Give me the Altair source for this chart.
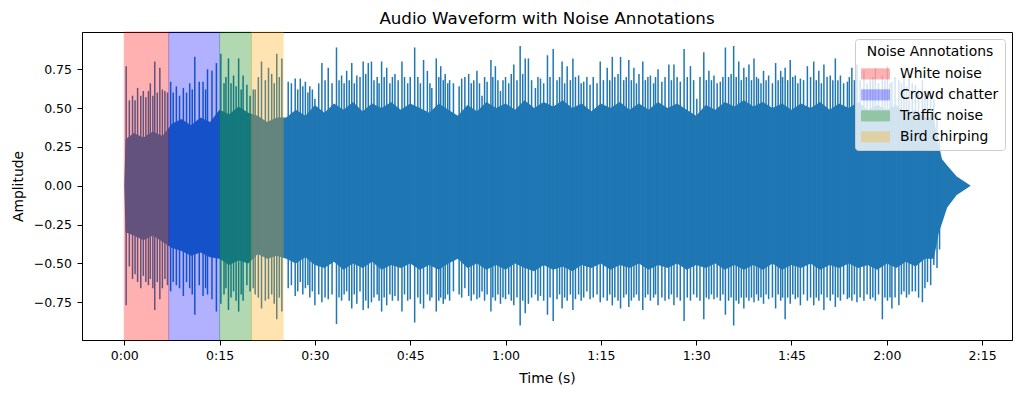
import altair as alt
import pandas as pd

# ---- noise annotation spans (seconds) ----
span_labels = ["White noise", "Crowd chatter", "Traffic noise", "Bird chirping"]
span_start = [0.0, 7.0, 15.0, 20.0]
span_end = [7.0, 15.0, 20.0, 25.0]
span_colors = ["#ff0000", "#0000ff", "#008000", "#ffa500"]

# ---- dense core envelope of the waveform ----
core_t = [0, 0.2, 1.5, 3.0, 4.5, 6.0, 7.5, 9.0, 10.5, 12.0, 13.5, 15.0, 16.5, 18.0,
          19.5, 21.0, 22.5, 24.0, 25.5, 27.0, 28.5, 30.0, 31.5, 33.0, 34.5, 36.0,
          37.5, 39.0, 40.5, 42.0, 43.5, 45.0, 46.5, 48.0, 49.5, 51.0, 52.5, 54.0,
          55.5, 57.0, 58.5, 60.0, 61.5, 63.0, 64.5, 66.0, 67.5, 69.0, 70.5, 72.0,
          73.5, 75.0, 76.5, 78.0, 79.5, 81.0, 82.5, 84.0, 85.5, 87.0, 88.5, 90.0,
          91.5, 93.0, 94.5, 96.0, 97.5, 99.0, 100.5, 102.0, 103.5, 105.0, 106.5,
          108.0, 109.5, 111.0, 112.5, 114.0, 115.5, 117.0, 118.5, 120.0, 121.5,
          123.0, 124.5, 126.0, 127.4, 128.2, 128.7, 129.5, 131.0, 132.5, 133.2]
core_hi = [0, 0.30, 0.34, 0.31, 0.35, 0.32, 0.40, 0.43, 0.39, 0.44, 0.41, 0.49,
           0.46, 0.51, 0.47, 0.45, 0.41, 0.44, 0.44, 0.49, 0.45, 0.52, 0.47, 0.53,
           0.49, 0.54, 0.48, 0.53, 0.50, 0.54, 0.49, 0.53, 0.50, 0.47, 0.53, 0.49,
           0.45, 0.52, 0.48, 0.54, 0.50, 0.53, 0.49, 0.55, 0.50, 0.54, 0.51, 0.55,
           0.50, 0.53, 0.48, 0.53, 0.50, 0.54, 0.49, 0.53, 0.49, 0.54, 0.50, 0.53,
           0.49, 0.45, 0.52, 0.49, 0.54, 0.51, 0.55, 0.51, 0.54, 0.50, 0.53, 0.49,
           0.53, 0.50, 0.54, 0.49, 0.53, 0.50, 0.54, 0.49, 0.52, 0.49, 0.52, 0.47,
           0.49, 0.44, 0.44, 0.25, 0.17, 0.13, 0.06, 0.02, 0]
core_lo = [0, -0.30, -0.32, -0.35, -0.32, -0.36, -0.40, -0.42, -0.45, -0.43, -0.46,
           -0.47, -0.51, -0.48, -0.50, -0.44, -0.47, -0.45, -0.47, -0.50, -0.46,
           -0.51, -0.53, -0.49, -0.54, -0.50, -0.53, -0.49, -0.54, -0.51, -0.53,
           -0.50, -0.54, -0.51, -0.54, -0.50, -0.47, -0.53, -0.50, -0.54, -0.51,
           -0.54, -0.50, -0.53, -0.55, -0.51, -0.54, -0.52, -0.55, -0.51, -0.53,
           -0.50, -0.54, -0.51, -0.53, -0.50, -0.54, -0.51, -0.53, -0.50, -0.54,
           -0.51, -0.53, -0.50, -0.54, -0.51, -0.54, -0.51, -0.54, -0.50, -0.54,
           -0.51, -0.53, -0.50, -0.54, -0.51, -0.53, -0.50, -0.53, -0.51, -0.54,
           -0.50, -0.53, -0.49, -0.52, -0.47, -0.47, -0.30, -0.24, -0.14, -0.06,
           -0.02, 0]

# ---- individual peaks (time, upper extent, lower extent) ----
spike_t = [
    0.3, 0.8, 1.3, 1.7, 2.1, 2.6, 3.0, 3.4, 3.8, 4.1, 4.5, 4.8, 5.2, 5.6, 6.0, 6.4, 6.8,
    7.3, 7.7, 8.2, 8.7, 9.3, 9.8, 10.3, 10.7, 11.1, 11.8, 12.4, 12.8, 13.1, 13.8, 14.5,
    15.2, 15.7, 16.0, 16.4, 16.8, 17.2, 17.6, 18.0, 18.4, 18.7, 19.3, 19.8,
    20.3, 20.6, 21.1, 21.6, 22.2, 22.7, 23.2, 23.6, 24.0, 24.4, 24.8,
    25.8, 26.3, 26.9, 27.3, 27.7, 28.1, 28.5, 28.9, 29.2, 29.6, 30.0, 30.6, 31.1, 31.6,
    32.1, 32.7, 33.4, 33.8, 34.2, 34.6, 35.0, 35.4, 35.8, 36.2, 36.6, 37.1, 37.6, 38.0,
    38.4, 38.9, 39.3, 39.8, 40.1, 40.5, 40.9, 41.3, 41.8, 42.2, 42.6, 43.1, 43.7, 44.1,
    44.6, 45.0,
    45.7, 46.2, 46.6, 47.1, 47.7, 48.1, 48.4, 49.1, 49.5, 49.8, 50.2, 50.5, 50.9, 51.2,
    51.8, 52.7, 53.1, 53.6, 54.2, 54.6, 55.0, 55.5, 55.9, 56.3, 56.7, 57.1, 57.7, 58.0,
    58.4, 58.8, 59.2, 59.6, 60.0, 60.5, 60.9, 61.3, 61.8, 62.3, 62.7, 63.1, 63.6, 64.1,
    64.7, 65.1, 65.5, 66.0, 66.6, 67.0, 67.5, 68.1, 68.5, 68.9, 69.3, 69.7, 70.2, 70.6,
    71.0, 71.5, 71.9, 72.3, 72.8, 73.3, 73.8, 74.4, 74.9, 75.4, 76.0, 76.4, 76.8, 77.2,
    77.7, 78.1, 78.6, 79.0, 79.4, 79.8, 80.2, 80.6, 81.0, 81.6, 82.0, 82.4, 82.8, 83.3,
    83.6, 84.0, 84.6, 85.1, 85.7, 86.1, 86.5, 87.0, 87.5, 88.1, 88.6, 89.1, 89.6, 90.1,
    90.6, 91.2, 91.6, 92.0,
    92.4, 92.8, 93.3, 93.8, 94.2, 94.6, 95.1, 95.5, 95.9, 96.3, 96.7, 97.1, 97.5, 97.9,
    98.3, 98.7, 99.1, 99.5, 99.8, 100.2, 100.6, 101.0, 101.4, 102.0, 102.5, 102.9, 103.3,
    103.6, 104.0, 104.4, 104.8, 105.2, 105.6, 106.0, 106.4, 106.9, 107.5, 108.0, 108.5,
    108.9, 109.3, 109.7, 110.1, 110.6, 111.1, 111.5, 111.9, 112.3, 112.7, 113.2, 113.8,
    114.1, 114.5, 114.9, 115.3, 115.8, 116.4, 116.9, 117.4, 117.8, 118.2, 118.7, 119.3,
    119.7, 120.1, 120.5, 120.8, 121.3, 121.9, 122.3, 122.7, 123.1, 123.5, 124.0, 124.5,
    125.0, 125.6, 126.0, 126.4, 126.9, 127.4, 127.9, 128.3,
]
spike_hi = [
    0.77, 0.55, 0.58, 0.55, 0.63, 0.58, 0.61, 0.57, 0.61, 0.66, 0.58, 0.80, 0.60, 0.76, 0.62, 0.61, 0.60,
    0.67, 0.60, 0.64, 0.58, 0.63, 0.60, 0.66, 0.62, 0.83, 0.67, 0.67, 0.62, 0.75, 0.74, 0.79,
    0.85, 0.66, 0.70, 0.82, 0.66, 0.71, 0.64, 0.82, 0.62, 0.71, 0.65, 0.58,
    0.62, 0.62, 0.70, 0.80, 0.68, 0.76, 0.72, 0.66, 0.85, 0.70, 0.82,
    0.67, 0.66, 0.69, 0.62, 0.69, 0.64, 0.67, 0.60, 0.64, 0.62, 0.56, 0.66, 0.79, 0.68,
    0.76, 0.66, 0.89, 0.68, 0.71, 0.66, 0.74, 0.68, 0.79, 0.66, 0.71, 0.70, 0.80, 0.72,
    0.79, 0.80, 0.68, 0.70, 0.66, 0.80, 0.70, 0.76, 0.66, 0.70, 0.72, 0.68, 0.80, 0.70,
    0.66, 0.70,
    0.89, 0.70, 0.66, 0.81, 0.74, 0.66, 0.63, 0.82, 0.70, 0.77, 0.68, 0.72, 0.66, 0.68,
    0.66, 0.64, 0.69, 0.70, 0.72, 0.66, 0.68, 0.74, 0.66, 0.58, 0.70, 0.67, 0.81, 0.70,
    0.77, 0.68, 0.61, 0.68, 0.70, 0.66, 0.72, 0.78, 0.68, 0.90, 0.72, 0.82, 0.82, 0.68,
    0.63, 0.70, 0.69, 0.66, 0.84, 0.70, 0.88, 0.68, 0.70, 0.80, 0.66, 0.77, 0.68, 0.82,
    0.70, 0.71, 0.66, 0.67, 0.70, 0.65, 0.70, 0.66, 0.80, 0.68, 0.76, 0.68, 0.83, 0.70,
    0.72, 0.83, 0.68, 0.70, 0.81, 0.68, 0.76, 0.66, 0.72, 0.80, 0.68, 0.70, 0.71, 0.66,
    0.70, 0.75, 0.67, 0.70, 0.78, 0.68, 0.78, 0.70, 0.67, 0.88, 0.70, 0.77, 0.68, 0.56,
    0.70, 0.86, 0.68, 0.74,
    0.68, 0.71, 0.66, 0.67, 0.70, 0.89, 0.70, 0.72, 0.90, 0.70, 0.80, 0.68, 0.76, 0.70,
    0.78, 0.68, 0.82, 0.70, 0.69, 0.66, 0.74, 0.68, 0.71, 0.66, 0.79, 0.68, 0.74,
    0.70, 0.76, 0.68, 0.81, 0.70, 0.71, 0.66, 0.69, 0.68, 0.77, 0.70, 0.80,
    0.68, 0.74, 0.66, 0.78, 0.70, 0.71, 0.68, 0.82, 0.68, 0.71, 0.66, 0.67,
    0.70, 0.76, 0.68, 0.78, 0.68, 0.74, 0.66, 0.69, 0.70, 0.76, 0.66, 0.71,
    0.68, 0.77, 0.66, 0.67, 0.70, 0.68, 0.66, 0.72, 0.64, 0.69, 0.66, 0.65,
    0.62, 0.68, 0.60, 0.61, 0.58, 0.56, 0.45, 0.30,
]
spike_lo = [
    -0.77, -0.52, -0.60, -0.57, -0.62, -0.66, -0.58, -0.62, -0.64, -0.60, -0.66, -0.80, -0.62, -0.73, -0.66, -0.60, -0.64,
    -0.68, -0.62, -0.64, -0.66, -0.71, -0.62, -0.66, -0.70, -0.83, -0.64, -0.71, -0.66, -0.70, -0.73, -0.81,
    -0.76, -0.70, -0.66, -0.80, -0.72, -0.68, -0.74, -0.81, -0.70, -0.74, -0.64, -0.68,
    -0.66, -0.70, -0.72, -0.79, -0.74, -0.73, -0.70, -0.76, -0.86, -0.72, -0.81,
    -0.66, -0.64, -0.71, -0.68, -0.62, -0.70, -0.66, -0.64, -0.72, -0.68, -0.77, -0.70, -0.75, -0.72,
    -0.73, -0.70, -0.89, -0.72, -0.74, -0.70, -0.68, -0.74, -0.79, -0.70, -0.76, -0.68, -0.80, -0.74,
    -0.79, -0.75, -0.72, -0.70, -0.74, -0.81, -0.72, -0.77, -0.70, -0.74, -0.71, -0.74, -0.81, -0.70,
    -0.74, -0.73,
    -0.88, -0.72, -0.76, -0.79, -0.70, -0.74, -0.72, -0.81, -0.74, -0.72, -0.76, -0.73, -0.70, -0.74,
    -0.68, -0.70, -0.72, -0.66, -0.71, -0.74, -0.70, -0.73, -0.72, -0.68, -0.74, -0.70, -0.81, -0.72,
    -0.74, -0.70, -0.76, -0.72, -0.73, -0.70, -0.74, -0.77, -0.72, -0.90, -0.74, -0.82, -0.76, -0.72,
    -0.70, -0.74, -0.71, -0.74, -0.83, -0.72, -0.87, -0.73, -0.70, -0.79, -0.72, -0.74, -0.70, -0.80,
    -0.73, -0.70, -0.74, -0.72, -0.68, -0.73, -0.72, -0.70, -0.75, -0.72, -0.74, -0.70, -0.77, -0.72,
    -0.74, -0.79, -0.72, -0.70, -0.78, -0.74, -0.72, -0.70, -0.74, -0.80, -0.72, -0.70, -0.74, -0.72,
    -0.70, -0.77, -0.72, -0.74, -0.73, -0.70, -0.77, -0.72, -0.74, -0.87, -0.72, -0.74, -0.70, -0.72,
    -0.74, -0.86, -0.72, -0.73,
    -0.70, -0.73, -0.72, -0.74, -0.70, -0.83, -0.74, -0.72, -0.90, -0.74, -0.76, -0.72, -0.79, -0.72,
    -0.74, -0.72, -0.75, -0.70, -0.74, -0.72, -0.76, -0.70, -0.73, -0.72, -0.79, -0.70, -0.74,
    -0.72, -0.86, -0.72, -0.76, -0.70, -0.73, -0.72, -0.77, -0.70, -0.74, -0.72, -0.77,
    -0.72, -0.74, -0.70, -0.80, -0.72, -0.74, -0.70, -0.78, -0.72, -0.74, -0.70, -0.73,
    -0.72, -0.74, -0.70, -0.75, -0.72, -0.74, -0.70, -0.73, -0.72, -0.74, -0.70, -0.86,
    -0.72, -0.74, -0.72, -0.79, -0.72, -0.77, -0.70, -0.68, -0.72, -0.70, -0.68, -0.68,
    -0.72, -0.75, -0.66, -0.62, -0.64, -0.51, -0.53, -0.41,
]

# ---- axis ticks ----
x_ticks = [0, 15, 30, 45, 60, 75, 90, 105, 120, 135]
y_ticks = [-0.75, -0.5, -0.25, 0.0, 0.25, 0.5, 0.75]

WAVE = "#1f77b4"
FONT = "DejaVu Sans"

core_df = pd.DataFrame({"t": core_t, "hi": core_hi, "lo": core_lo})
spike_df = pd.DataFrame({"t": spike_t, "hi": spike_hi, "lo": spike_lo})
span_df = pd.DataFrame({"label": span_labels, "start": span_start, "end": span_end})

x_scale = alt.Scale(domain=[-6.65, 139.7], nice=False, zero=False)
y_scale = alt.Scale(domain=[-0.993, 0.99], nice=False, zero=False)

x_axis = alt.Axis(
    values=x_ticks,
    title="Time (s)",
    labelExpr="floor(datum.value/60) + ':' + (datum.value % 60 < 10 ? '0' : '') + (datum.value % 60)",
    labelPadding=4,
    titlePadding=10,
)
y_axis = alt.Axis(values=y_ticks, format=".2f", title="Amplitude",
                  labelPadding=5.5, titlePadding=8)

core = alt.Chart(core_df).mark_area(color=WAVE, opacity=1).encode(
    x=alt.X("t:Q", scale=x_scale, axis=x_axis),
    y=alt.Y("hi:Q", scale=y_scale, axis=y_axis),
    y2="lo:Q",
)

spikes = alt.Chart(spike_df).mark_rule(color=WAVE, strokeWidth=1.5).encode(
    x=alt.X("t:Q", scale=x_scale),
    y=alt.Y("hi:Q", scale=y_scale),
    y2="lo:Q",
)

span_scale = alt.Scale(domain=span_labels, range=span_colors)
legend = alt.Legend(
    title="Noise Annotations",
    orient="top-right",
    offset=7,
    padding=6,
    fillColor="rgba(255,255,255,0.8)",
    strokeColor="#cccccc",
    cornerRadius=3,
    symbolType="M-1,-0.72L3,-0.72L3,0.72L-1,0.72Z",
    symbolSize=196,
    symbolStrokeWidth=1,
    symbolOpacity=0.3,
    labelFontSize=13.9,
    labelFont=FONT,
    labelColor="black",
    labelOffset=24,
    titleFontSize=13.9,
    titleFont=FONT,
    titleFontWeight="normal",
    titleColor="black",
    titleAnchor="middle",
    titlePadding=7.5,
    rowPadding=6,
)

spans = alt.Chart(span_df).mark_rect(opacity=0.3, strokeWidth=1).encode(
    x=alt.X("start:Q", scale=x_scale),
    x2="end:Q",
    y=alt.value(0),
    y2=alt.value("height"),
    color=alt.Color("label:N", scale=span_scale, sort=span_labels, legend=legend),
    stroke=alt.Stroke("label:N", scale=span_scale, sort=span_labels, legend=legend),
)

chart = (
    alt.layer(core, spikes, spans)
    .properties(
        width=930,
        height=308,
        autosize=alt.AutoSizeParams(type="none"),
        padding={"left": 74, "top": 24, "right": 1, "bottom": 45},
        title=alt.TitleParams(
            "Audio Waveform with Noise Annotations",
            font=FONT,
            fontSize=16.7,
            fontWeight="normal",
            color="black",
            anchor="middle",
            offset=4,
        ),
    )
    .configure_view(stroke="black", strokeWidth=1)
    .configure_axis(
        labelFont=FONT,
        labelFontSize=12.5,
        labelColor="black",
        titleFont=FONT,
        titleFontSize=13.9,
        titleFontWeight="normal",
        titleColor="black",
        tickColor="black",
        tickSize=5,
        tickWidth=1,
        domainColor="black",
        domainWidth=1,
        grid=False,
    )
)

chart.save("out.html", embed_options={"renderer": "svg", "actions": False})
